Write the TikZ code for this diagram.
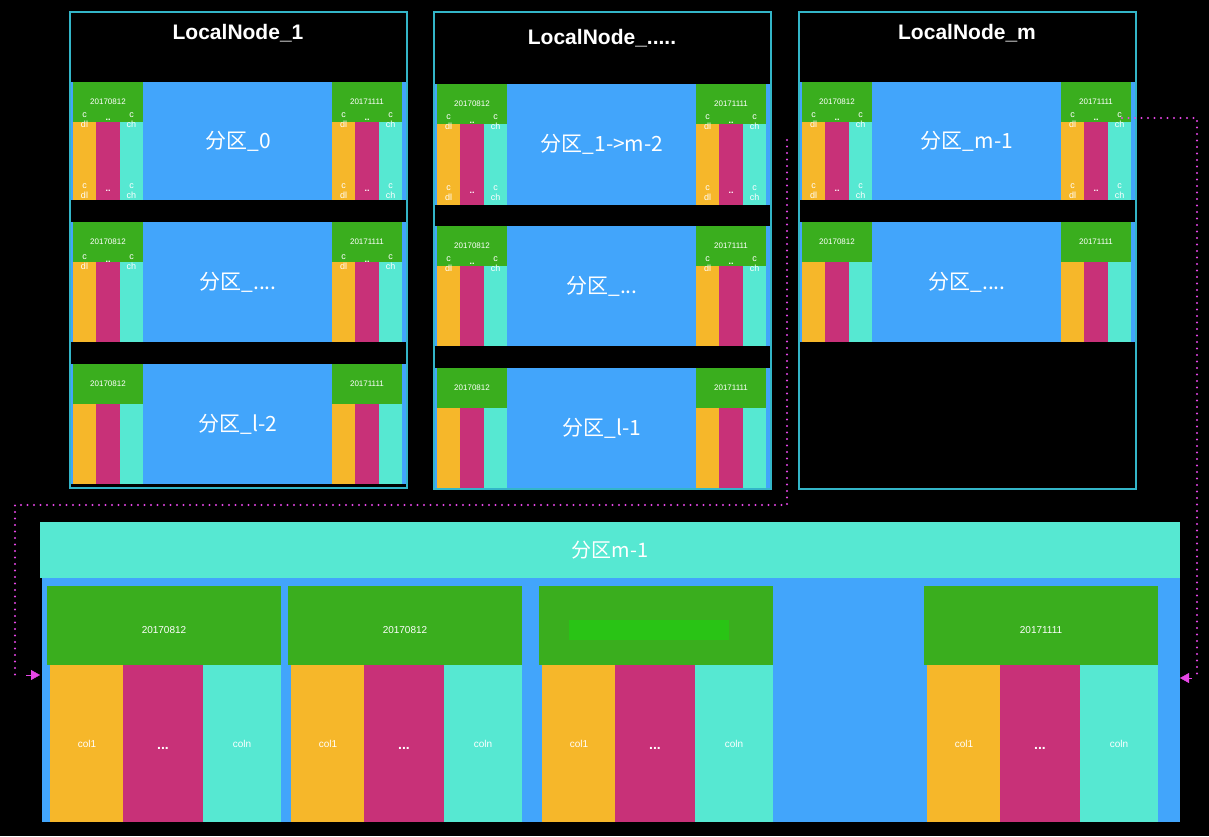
\documentclass[tikz,border=0pt]{standalone}
\usepackage{fontspec}
\setmainfont{Liberation Sans}
\newfontfamily\cjk{Noto Sans CJK SC}
\usetikzlibrary{arrows.meta}
\definecolor{bl}{HTML}{42A5FB}
\definecolor{gr}{HTML}{3AAE1E}
\definecolor{ye}{HTML}{F6B72A}
\definecolor{mg}{HTML}{C83178}
\definecolor{cy}{HTML}{56E8D2}
\definecolor{fr}{HTML}{33B5C8}
\definecolor{pk}{HTML}{E646E6}
\tikzset{
 fl/.style={fill=#1,draw=none},
 small/.style={text=white,font=\fontsize{8}{8}\selectfont,inner sep=0pt},
 cell/.style={text=white,font=\fontsize{9}{10}\selectfont,align=center,inner sep=0pt},
 big/.style={text=white,font=\cjk\fontsize{21}{21}\selectfont},
 title/.style={text=white,font=\bfseries\fontsize{21}{21}\selectfont},
 dots/.style={draw=pk,line width=2.2pt,dash pattern=on 0pt off 6.5pt,line cap=round},
 tip/.style={-{Triangle[length=9pt,width=10pt]},pk}
}
% mini block: x, y(top), h(total), date
\newcommand\mini[4]{%
 \fill[gr] (#1,#2) rectangle ++(70,40);
 \node[small] at (#1+35,#2+20) {#4};
 \fill[ye] (#1,#2+40) rectangle (#1+23,#2+#3);
 \fill[mg] (#1+23,#2+40) rectangle (#1+47,#2+#3);
 \fill[cy] (#1+47,#2+40) rectangle (#1+70,#2+#3);
 \node[cell] at (#1+11.5,#2+40+0.5*#3-20) {c\\dl};
 \node[cell] at (#1+35,#2+40+0.5*#3-20) {\textbf{..}};
 \node[cell] at (#1+58.5,#2+40+0.5*#3-20) {c\\ch};
}
% partition: x0, y0, y1, label
\newcommand\prt[4]{%
 \fill[bl] (#1,#2) rectangle (#1+335,#3);
 \mini{#1+2}{#2}{#3-#2}{20170812}
 \mini{#1+261}{#2}{#3-#2}{20171111}
 \node[big] at (#1+167,#2+0.5*#3-0.5*#2) {#4};
}
% bottom block
\newcommand\bblk[3]{%
 \fill[gr] (#1,586) rectangle ++(234,79);
 \node[small,font=\fontsize{10}{10}\selectfont] at (#1+117,630) {#2};
 #3
 \fill[ye] (#1+3,665) rectangle (#1+76,822);
 \fill[mg] (#1+76,665) rectangle (#1+156,822);
 \fill[cy] (#1+156,665) rectangle (#1+234,822);
 \node[small,font=\fontsize{10}{10}\selectfont] at (#1+40,744) {col1};
 \node[small,font=\bfseries\fontsize{14}{14}\selectfont] at (#1+116,748) {...};
 \node[small,font=\fontsize{10}{10}\selectfont] at (#1+195,744) {coln};
}
\begin{document}
\begin{tikzpicture}[x=1pt,y=-1pt]
\fill[black] (0,0) rectangle (1209,836);
\useasboundingbox (0,0) rectangle (1209,836);
% frames
\draw[fr,line width=1.5pt] (70,12) rectangle (407,488);
\draw[fr,line width=1.5pt] (434,12) rectangle (771,489);
\draw[fr,line width=1.5pt] (799,12) rectangle (1136,489);
\node[title] (n1) at (238,33) {LocalNode\_1};
\node[title] (n2) at (602,38) {LocalNode\_.....};
\node[title] (n3) at (967,33) {LocalNode\_m};
\prt{71}{82}{200}{分区\_0}
\prt{71}{222}{342}{分区\_....}
\prt{71}{364}{484}{分区\_l-2}
\prt{435}{84}{205}{分区\_1->m-2}
\prt{435}{226}{346}{分区\_...}
\prt{435}{368}{488}{分区\_l-1}
\prt{800}{82}{200}{分区\_m-1}
\prt{800}{222}{342}{分区\_....}
% bottom
\fill[bl] (42,578) rectangle (1180,822);
\fill[cy] (40,522) rectangle (1180,578);
\node[big,font=\cjk\fontsize{20}{20}\selectfont] (bt) at (610,550) {分区m-1};
\bblk{47}{20170812}{}
\bblk{288}{20170812}{}
\bblk{539}{}{\fill[green!55!gr,opacity=0.5] (569,620) rectangle (729,640);}
\bblk{924}{20171111}{}
% dotted connectors
\coordinate (ls) at (787,140);
\coordinate (la) at (40,675);
\coordinate (rs) at (1122,118);
\coordinate (ra) at (1180,678);
\draw[dots] (ls) -- (787,505) -- (15,505) -- (15,675);
\draw[tip] (26,675) -- (la);
\draw[dots] (rs) -- (1197,118) -- (1197,678);
\draw[tip] (1192,678) -- (ra);
\end{tikzpicture}
\end{document}
